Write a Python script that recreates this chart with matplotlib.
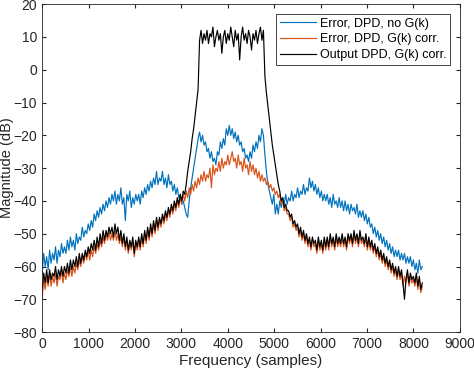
import numpy as np
import matplotlib.pyplot as plt

plt.rcParams['font.family'] = ['Liberation Sans', 'DejaVu Sans']

# frequency bins (every 32 samples, 0..8192)
freq = np.arange(0, 8193, 32)

# Error, DPD, no G(k)
err_nog = [-62, -56, -60, -57, -61, -55, -59, -56, -58, -54, -59, -55, -57, -53, -56, -54,
           -56, -52, -55, -51, -54, -52, -55, -50, -53, -51, -52, -48, -51, -49, -50, -47,
           -49, -46, -48, -44, -46, -43, -45, -42, -44, -41, -43, -40, -42, -39, -41, -38,
           -40, -37, -41, -38, -40, -36, -41, -39, -46, -38, -40, -37, -42, -39, -41, -38,
           -40, -38, -41, -37, -39, -36, -38, -35, -37, -34, -36, -33, -35, -31, -35, -33,
           -34, -31, -35, -33, -36, -32, -35, -34, -37, -35, -38, -36, -39, -38, -41, -40,
           -42, -44, -45, -40, -36, -33, -30, -27, -24, -21, -19, -22, -20, -23, -22, -25,
           -24, -27, -25, -28, -27, -29, -25, -26, -22, -24, -21, -23, -18, -20, -17, -20,
           -18, -21, -19, -22, -20, -23, -22, -25, -24, -27, -26, -28, -25, -27, -23, -25,
           -22, -24, -20, -22, -18, -20, -26, -31, -35, -37, -39, -41, -38, -44, -41, -44,
           -40, -42, -39, -41, -38, -41, -39, -40, -37, -40, -38, -39, -36, -39, -37, -38,
           -35, -38, -36, -37, -33, -36, -34, -37, -35, -38, -36, -39, -37, -40, -38, -40,
           -38, -41, -39, -42, -38, -41, -40, -42, -39, -42, -40, -43, -40, -43, -41, -44,
           -41, -43, -42, -44, -41, -45, -43, -45, -43, -46, -44, -47, -45, -48, -47, -50,
           -48, -51, -49, -52, -50, -53, -51, -54, -52, -55, -53, -56, -54, -57, -55, -57,
           -55, -58, -56, -58, -56, -59, -57, -59, -57, -60, -58, -61, -59, -62, -58, -61,
           -60]

# Error, DPD, G(k) corr.
err_corr = [-70, -64, -67, -63, -66, -62, -66, -63, -65, -62, -66, -63, -64, -61, -65, -62,
            -64, -61, -63, -60, -63, -60, -62, -59, -61, -58, -60, -57, -59, -56, -58, -55,
            -58, -55, -57, -54, -56, -53, -55, -52, -54, -51, -53, -50, -52, -49, -52, -50,
            -52, -49, -52, -50, -53, -51, -54, -51, -55, -52, -56, -53, -55, -52, -57, -53,
            -55, -52, -55, -51, -54, -50, -53, -49, -52, -48, -51, -47, -50, -46, -49, -46,
            -48, -45, -47, -44, -46, -43, -45, -42, -44, -41, -43, -40, -42, -39, -41, -38,
            -40, -37, -39, -36, -38, -35, -37, -34, -36, -33, -35, -32, -34, -31, -34, -32,
            -33, -30, -36, -29, -32, -30, -31, -28, -31, -27, -30, -28, -29, -26, -29, -27,
            -25, -28, -27, -30, -26, -29, -28, -31, -27, -30, -29, -32, -28, -31, -29, -32,
            -30, -33, -31, -34, -32, -34, -33, -35, -34, -36, -35, -37, -36, -38, -37, -39,
            -38, -41, -40, -43, -42, -44, -44, -46, -45, -48, -47, -49, -48, -51, -49, -52,
            -50, -53, -51, -54, -52, -55, -52, -54, -53, -56, -52, -55, -53, -56, -52, -55,
            -52, -55, -51, -54, -52, -55, -51, -54, -52, -54, -51, -54, -52, -55, -51, -53,
            -51, -54, -50, -53, -51, -54, -50, -53, -52, -54, -51, -55, -52, -55, -53, -56,
            -54, -57, -55, -58, -56, -59, -57, -60, -58, -61, -59, -62, -60, -63, -61, -64,
            -61, -64, -62, -66, -63, -65, -62, -66, -63, -65, -64, -66, -63, -67, -64, -68,
            -66]

# Output DPD, G(k) corr.
out_corr = [-67, -62, -65, -61, -65, -61, -64, -62, -63, -60, -64, -61, -63, -60, -63, -60,
            -62, -59, -62, -58, -61, -58, -60, -57, -60, -56, -59, -56, -58, -55, -57, -54,
            -56, -53, -55, -52, -55, -51, -54, -50, -53, -49, -52, -49, -51, -48, -50, -48,
            -51, -47, -50, -48, -52, -49, -53, -50, -54, -51, -55, -52, -54, -51, -56, -52,
            -54, -51, -54, -50, -53, -49, -52, -48, -51, -47, -50, -46, -49, -45, -48, -45,
            -47, -44, -46, -43, -45, -42, -44, -41, -43, -40, -42, -39, -41, -38, -40, -37,
            -38, -35, -31, -28, -25, -21, -18, -14, -10, -6, 9, 12, 8, 11, 9, 12,
            8, 11, 10, 13, 7, 10, 12, 9, 11, 5, 10, 12, 8, 11, 9, 13,
            10, 7, 12, 9, 11, 3, 10, 13, 9, 11, 8, 12, 10, 6, 11, 9,
            12, 8, 11, 13, 9, 12, -2, -7, -11, -15, -19, -23, -26, -29, -32, -35,
            -37, -40, -39, -42, -41, -43, -43, -45, -44, -47, -46, -48, -47, -50, -48, -51,
            -49, -52, -50, -53, -51, -54, -51, -53, -52, -55, -51, -54, -52, -55, -51, -54,
            -51, -54, -50, -53, -51, -54, -50, -53, -51, -53, -50, -53, -51, -54, -50, -52,
            -50, -53, -49, -52, -50, -53, -49, -52, -51, -53, -50, -54, -51, -54, -52, -55,
            -53, -56, -54, -57, -55, -58, -56, -59, -57, -60, -58, -61, -59, -62, -60, -63,
            -60, -63, -61, -65, -70, -64, -61, -65, -62, -64, -63, -65, -62, -66, -63, -67,
            -65]

fig = plt.figure(figsize=(4.74, 3.74), dpi=100)
ax = fig.add_axes([0.089, 0.112, 0.881, 0.877])

ax.plot(freq, err_nog, color='#0072BD', linewidth=0.85, label='Error, DPD, no G(k)')
ax.plot(freq, err_corr, color='#D95319', linewidth=0.85, label='Error, DPD, G(k) corr.')
ax.plot(freq, out_corr, color='black', linewidth=0.85, label='Output DPD, G(k) corr.')

ax.set_xlim(0, 9000)
ax.set_ylim(-80, 20)
ax.set_xticks(np.arange(0, 9001, 1000))
ax.set_yticks(np.arange(-80, 21, 10))
ax.tick_params(direction='in', top=True, right=True, labelsize=10, colors='#262626', length=3)
for s in ax.spines.values():
    s.set_color('#262626')
    s.set_linewidth(0.6)
ax.set_xlabel('Frequency (samples)', fontsize=11, color='#262626', labelpad=2)
ax.set_ylabel('Magnitude (dB)', fontsize=10.5, color='#262626', labelpad=0)

leg = ax.legend(loc='upper right', bbox_to_anchor=(0.976, 0.97), fontsize=9,
                handlelength=2.9, handletextpad=0.3, borderpad=0.3, labelspacing=0.3,
                fancybox=False, framealpha=1, edgecolor='#262626', borderaxespad=0)
leg.get_frame().set_linewidth(0.6)

fig.savefig('out.png', dpi=100)
